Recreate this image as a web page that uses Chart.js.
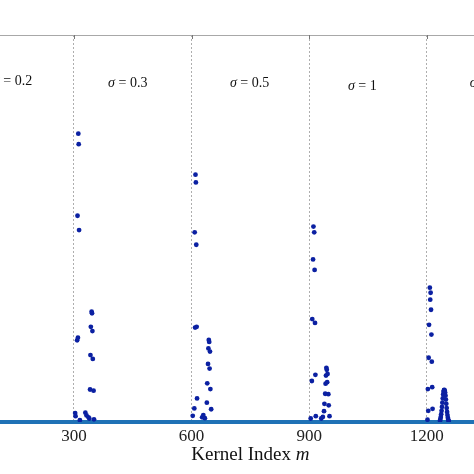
<!DOCTYPE html>
<html>
<head>
<meta charset="utf-8">
<script src="https://cdn.jsdelivr.net/npm/chart.js@4.4.1/dist/chart.umd.min.js"></script>
<style>
  html, body { margin: 0; padding: 0; background: #fff; }
  #wrap { width: 474px; height: 474px; }
</style>
</head>
<body>
<div id="wrap"><canvas id="kernelChart"></canvas></div>
<script>
// x axis
var tickValues = [300, 600, 900, 1200];
var kernelCount = 1500;
var xMin = 111.2;
var xMax = 1320.7;

// non-zero kernel weights, one block per sigma
var sig03Idx = [303, 304, 308, 309, 310, 311, 312, 313, 315, 329, 332, 337, 339, 341, 342, 343, 345, 346, 347, 348, 350, 351];
var sig03Val = [0.023, 0.015, 0.211, 0.533, 0.218, 0.745, 0.718, 0.496, 0.005, 0.024, 0.017, 0.012, 0.009, 0.084, 0.173, 0.246, 0.285, 0.281, 0.235, 0.163, 0.081, 0.007];

var sig05Idx = [603, 607, 608, 609, 610, 611, 612, 613, 614, 627, 630, 634, 639, 640, 642, 643, 644, 645, 646, 647, 648, 650];
var sig05Val = [0.016, 0.035, 0.490, 0.244, 0.639, 0.619, 0.458, 0.246, 0.061, 0.012, 0.018, 0.010, 0.050, 0.100, 0.150, 0.190, 0.212, 0.207, 0.138, 0.182, 0.085, 0.033];

var sig1Idx = [904, 907, 908, 910, 911, 913, 914, 915, 916, 917, 931, 935, 938, 939, 941, 942, 943, 944, 945, 946, 947, 949, 950, 952];
var sig1Val = [0.009, 0.106, 0.266, 0.420, 0.505, 0.490, 0.393, 0.256, 0.122, 0.015, 0.009, 0.013, 0.028, 0.047, 0.073, 0.099, 0.120, 0.140, 0.135, 0.103, 0.124, 0.072, 0.043, 0.015];

var sig2Idx = [1202, 1203, 1204, 1205, 1206, 1208, 1209, 1210, 1211, 1212, 1213, 1214, 1215,
  1234, 1235, 1236, 1237, 1238, 1239, 1240, 1241, 1242, 1243, 1244, 1245, 1246, 1247, 1248, 1249, 1250, 1251, 1252, 1253, 1254, 1255, 1256];
var sig2Val = [0.006, 0.085, 0.029, 0.166, 0.251, 0.347, 0.316, 0.334, 0.290, 0.226, 0.156, 0.090, 0.034,
  0.004, 0.008, 0.013, 0.020, 0.029, 0.039, 0.050, 0.061, 0.071, 0.078, 0.082, 0.083, 0.081, 0.076, 0.068, 0.058, 0.047, 0.036, 0.026, 0.018, 0.011, 0.006, 0.003];

// sigma annotations
var sigmaText = ["0.2", "0.3", "0.5", "1", "2"];
var sigmaTextM = [93, 387, 698, 999, 1310];
var sigmaTextY = [0.881, 0.876, 0.876, 0.868, 0.876];

var blocks = [
  { idx: sig03Idx, val: sig03Val },
  { idx: sig05Idx, val: sig05Val },
  { idx: sig1Idx, val: sig1Val },
  { idx: sig2Idx, val: sig2Val },
];

var weights = [];
for (var m = 0; m < kernelCount; m++) weights.push(0);
blocks.forEach(function (b) {
  b.idx.forEach(function (m, i) { weights[m] = b.val[i]; });
});

// zero weights form the thick baseline
var baseData = weights.map(function (w, m) {
  return { x: m, y: w === 0 ? 0 : null };
});
var spikeData = [];
blocks.forEach(function (b) {
  b.idx.forEach(function (m, i) { spikeData.push({ x: m, y: b.val[i] }); });
});

var serif = "'Liberation Serif', 'DejaVu Serif', serif";

var decorPlugin = {
  id: "decor",
  afterDraw: function (chart) {
    var ctx = chart.ctx;
    var area = chart.chartArea;
    var xs = chart.scales.x;
    var ys = chart.scales.y;
    ctx.save();

    // top frame + small top ticks
    ctx.strokeStyle = "#a8a8a8";
    ctx.lineWidth = 1;
    ctx.beginPath();
    ctx.moveTo(0, area.top + 0.5);
    ctx.lineTo(chart.width, area.top + 0.5);
    ctx.stroke();
    ctx.strokeStyle = "#777";
    tickValues.forEach(function (v) {
      var px = Math.round(xs.getPixelForValue(v)) + 0.5;
      ctx.beginPath();
      ctx.moveTo(px, area.top);
      ctx.lineTo(px, area.top + 4);
      ctx.stroke();
    });

    // sigma labels
    ctx.fillStyle = "#111";
    ctx.textBaseline = "middle";
    ctx.textAlign = "left";
    sigmaText.forEach(function (t, i) {
      var px = xs.getPixelForValue(sigmaTextM[i]);
      var py = ys.getPixelForValue(sigmaTextY[i]);
      ctx.font = "italic 14px " + serif;
      ctx.fillText("\u03c3", px, py);
      var w = ctx.measureText("\u03c3").width;
      ctx.font = "14px " + serif;
      ctx.fillText(" = " + t, px + w, py);
    });

    // axis title
    var part1 = "Kernel Index ";
    var part2 = "m";
    ctx.font = "19px " + serif;
    var w1 = ctx.measureText(part1).width;
    ctx.font = "italic 19px " + serif;
    var w2 = ctx.measureText(part2).width;
    var cx = xs.getPixelForValue(kernelCount / 2);
    var left = cx - (w1 + w2) / 2;
    var ty = 455;
    ctx.font = "19px " + serif;
    ctx.fillText(part1, left, ty);
    ctx.font = "italic 19px " + serif;
    ctx.fillText(part2, left + w1, ty);

    ctx.restore();
  },
};

var ctx = document.getElementById("kernelChart").getContext("2d");
var kernelChart = new Chart(ctx, {
  type: "scatter",
  data: {
    datasets: [
      {
        label: "zero weights",
        data: baseData,
        showLine: true,
        spanGaps: true,
        borderColor: "#1f72b6",
        borderWidth: 4,
        pointRadius: 0,
        clip: false,
        order: 2,
      },
      {
        label: "weights",
        data: spikeData,
        backgroundColor: "#0b20a2",
        borderWidth: 0,
        pointRadius: 2.4,
        order: 1,
      },
    ],
  },
  options: {
    responsive: true,
    maintainAspectRatio: false,
    animation: false,
    layout: {
      autoPadding: false,
      padding: { top: 35, left: 0, right: 0, bottom: 0 },
    },
    plugins: {
      legend: { display: false },
      tooltip: { enabled: false },
    },
    scales: {
      x: {
        type: "linear",
        min: xMin,
        max: xMax,
        afterBuildTicks: function (scale) {
          scale.ticks = tickValues.map(function (v) { return { value: v }; });
        },
        afterFit: function (scale) {
          scale.height = 52;
        },
        grid: {
          color: "#9a9a9a",
          lineWidth: 0.8,
          drawTicks: false,
        },
        border: { display: false, dash: [2, 2] },
        ticks: {
          padding: 4,
          color: "#222",
          font: { family: serif, size: 17 },
          maxRotation: 0,
          callback: function (v) { return String(v); },
        },
      },
      y: {
        display: false,
        min: 0,
        max: 1,
      },
    },
  },
  plugins: [decorPlugin],
});
</script>
</body>
</html>
